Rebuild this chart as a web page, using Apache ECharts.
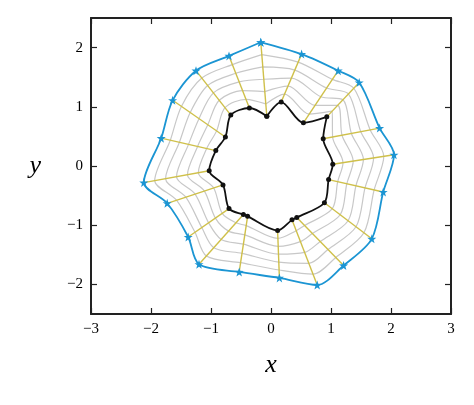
<!DOCTYPE html>
<html>
<head>
<meta charset="utf-8">
<script src="https://cdn.jsdelivr.net/npm/echarts@6/dist/echarts.min.js"></script>
<style>html,body{margin:0;padding:0;background:#fff}#chart{width:474px;height:405px}</style>
</head>
<body>
<div id="chart"></div>
<script>
// inner boundary (black dots), clockwise from top
var innerX = [-0.07, 0.17, 0.54, 0.93, 0.87, 1.03, 0.96, 0.89, 0.43, 0.35, 0.11, -0.39, -0.46, -0.70, -0.80, -1.03, -0.92, -0.76, -0.67, -0.36];
var innerY = [0.84, 1.08, 0.73, 0.83, 0.46, 0.03, -0.23, -0.62, -0.87, -0.91, -1.09, -0.85, -0.82, -0.72, -0.32, -0.08, 0.26, 0.49, 0.86, 0.98];
// outer boundary (blue stars), same order
var outerX = [-0.17, 0.51, 1.12, 1.47, 1.81, 2.05, 1.87, 1.68, 1.21, 0.77, 0.14, -0.53, -1.20, -1.38, -1.73, -2.12, -1.83, -1.64, -1.25, -0.70];
var outerY = [2.09, 1.89, 1.61, 1.41, 0.64, 0.19, -0.44, -1.23, -1.68, -2.01, -1.89, -1.79, -1.66, -1.20, -0.63, -0.28, 0.47, 1.11, 1.61, 1.86];
var levels = [1/6, 2/6, 3/6, 4/6, 5/6];

function closed(xs, ys) {
    var d = xs.map(function (x, i) { return [x, ys[i]]; });
    d.push(d[0]);
    return d;
}
var series = [];
levels.forEach(function (t) {
    var xs = innerX.map(function (x, i) { return x + (outerX[i] - x) * t; });
    var ys = innerY.map(function (y, i) { return y + (outerY[i] - y) * t; });
    series.push({ type: 'line', data: closed(xs, ys), smooth: 0.3, symbol: 'none',
        lineStyle: { color: '#c8c8c8', width: 1.2 }, z: 1 });
});
innerX.forEach(function (x, i) {
    series.push({ type: 'line', data: [[x, innerY[i]], [outerX[i], outerY[i]]], symbol: 'none',
        lineStyle: { color: '#cfc04a', width: 1.4 }, z: 2 });
});
series.push({ type: 'line', data: closed(outerX, outerY), smooth: 0.3, symbol: 'path://M0,-10L2.4,-3.2L9.5,-3.1L3.8,1.2L5.9,8.1L0,4L-5.9,8.1L-3.8,1.2L-9.5,-3.1L-2.4,-3.2Z',
    symbolSize: 9, itemStyle: { color: '#1b95d3' }, lineStyle: { color: '#1b95d3', width: 1.8 }, z: 3 });
series.push({ type: 'line', data: closed(innerX, innerY), smooth: 0.3, symbol: 'circle',
    symbolSize: 5, itemStyle: { color: '#111' }, lineStyle: { color: '#111', width: 1.8 }, z: 3 });

var font = 'Liberation Serif';
function ax(pos, show, name) {
    var vert = pos === 'left' || pos === 'right';
    return {
        type: 'value', position: pos, min: vert ? -2.5 : -3, max: vert ? 2.5 : 3, interval: 1,
        name: name || '', nameLocation: 'middle', nameGap: pos === 'bottom' ? 38 : 50,
        nameTextStyle: { fontFamily: font, fontStyle: 'italic', fontSize: 26, color: '#000' },
        axisLine: { show: true, onZero: false, lineStyle: { color: '#222', width: 2 } },
        axisTick: { show: true, inside: true, length: 6, lineStyle: { color: '#222', width: 1.2 },
            customValues: vert ? [-2, -1, 0, 1, 2] : undefined },
        axisLabel: { show: show, fontFamily: font, fontSize: 15, color: '#000',
            customValues: vert ? [-2, -1, 0, 1, 2] : undefined,
            formatter: function (v) { return String(v).replace('-', '\u2212'); } },
        splitLine: { show: false }
    };
}
var y = ax('left', true, 'y');
y.nameRotate = 0;
var chart = echarts.init(document.getElementById('chart'));
chart.setOption({
    animation: false,
    grid: { left: 91, right: 23, top: 18, bottom: 91 },
    xAxis: [ax('bottom', true, 'x'), ax('top', false)],
    yAxis: [y, ax('right', false)],
    series: series
});
</script>
</body>
</html>
